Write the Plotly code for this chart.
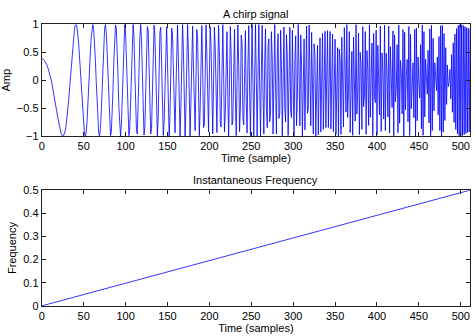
import numpy as np
import plotly.graph_objects as go

# Linear FM chirp: N samples, normalised frequency sweeping f_start -> f_end
n_samples = 512
f_start = 0.0
f_end = 0.5
t_ref = 255  # sample index at which the phase is zero

# Instantaneous-frequency line (endpoints of the sweep)
if_time = [0, n_samples - 1]
if_freq = [f_start, f_end]

# Signal: real part of the linear FM with the above sweep
k = np.arange(n_samples)
slope = (f_end - f_start) / (2.0 * (n_samples - 1))
phase = 2 * np.pi * (f_start * (k - t_ref) + slope * (k ** 2 - t_ref ** 2))
signal = np.cos(phase)

amp_ticks = [-1, -0.5, 0, 0.5, 1]
freq_ticks = [0, 0.1, 0.2, 0.3, 0.4, 0.5]
time_ticks = list(range(0, 501, 50))

FONT = "Liberation Sans, Arial"
W, H = 474, 336
fig = go.Figure()
fig.add_trace(go.Scatter(x=k, y=signal, mode="lines",
                         line=dict(color="#0000ff", width=0.8),
                         xaxis="x", yaxis="y", showlegend=False))
fig.add_trace(go.Scatter(x=if_time, y=if_freq, mode="lines",
                         line=dict(color="#0000ff", width=0.8),
                         xaxis="x2", yaxis="y2", showlegend=False))

# pixel layout of the two axes boxes
left, right = 39, 470
top1, bot1 = 19, 135
top2, bot2 = 191, 311


def dom_x():
    return [left / W, right / W]


def dom_y(t, b):
    return [1 - b / H, 1 - t / H]


axis_style = dict(showline=True, linecolor="#202020", linewidth=1, mirror="ticks",
                  ticks="inside", ticklen=4, tickcolor="#202020", showgrid=False,
                  zeroline=False, tickfont=dict(family=FONT, size=11, color="#000"))


def title(text, standoff):
    return dict(text=text, standoff=standoff, font=dict(family=FONT, size=11, color="#000"))


fig.update_layout(
    width=W, height=H, margin=dict(l=0, r=0, t=0, b=0),
    paper_bgcolor="white", plot_bgcolor="white",
    xaxis=dict(domain=dom_x(), range=[0, n_samples - 1], tickvals=time_ticks, anchor="y",
               title=title("Time (sample)", 2), **axis_style),
    yaxis=dict(domain=dom_y(top1, bot1), range=[-1, 1], tickvals=amp_ticks, anchor="x",
               title=title("Amp", 4), **axis_style),
    xaxis2=dict(domain=dom_x(), range=[0, n_samples - 1], tickvals=time_ticks, anchor="y2",
                title=title("Time (samples)", 2), **axis_style),
    yaxis2=dict(domain=dom_y(top2, bot2), range=[0, 0.5], tickvals=freq_ticks, anchor="x2",
                title=title("Frequency", 4), **axis_style),
    annotations=[
        dict(text="A chirp signal", x=(left + right) / 2 / W, y=1 - (top1 - 2) / H,
             xref="paper", yref="paper", xanchor="center", yanchor="bottom", showarrow=False,
             font=dict(family=FONT, size=11, color="#000")),
        dict(text="Instantaneous Frequency", x=(left + right) / 2 / W, y=1 - (top2 - 2) / H,
             xref="paper", yref="paper", xanchor="center", yanchor="bottom", showarrow=False,
             font=dict(family=FONT, size=11, color="#000")),
    ],
)

fig.write_html("out.html")
